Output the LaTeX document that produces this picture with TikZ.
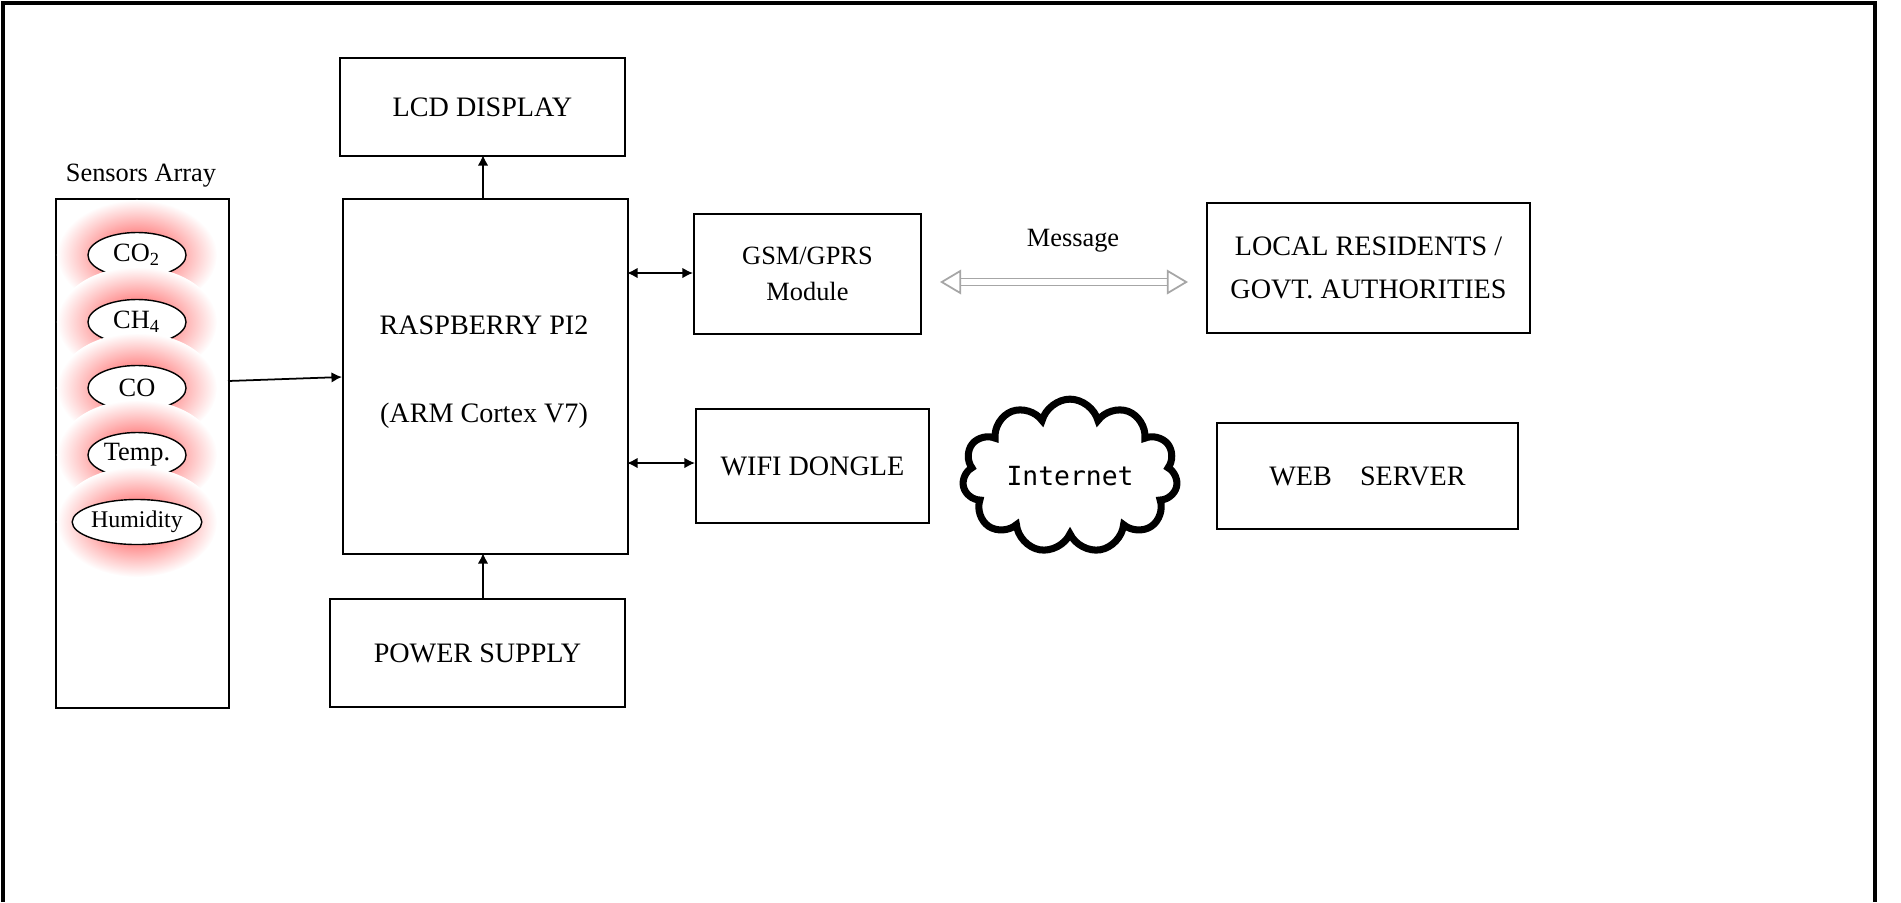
\documentclass[tikz,border=0pt]{standalone}
\usepackage{fontspec}
\setmainfont{Liberation Serif}
\newfontfamily\monof{DejaVu Sans Mono}
\usetikzlibrary{shapes.geometric,shapes.symbols,arrows.meta}
\begin{document}
\begin{tikzpicture}[x=0.01cm,y=-0.01cm,
  box/.style={draw,line width=0.5pt,align=center,inner sep=0pt,font=\fontsize{8}{11}\selectfont},
  sens/.style={draw,ellipse,fill=white,minimum width=0.98cm,minimum height=0.45cm,inner sep=0pt,font=\fontsize{7.5}{9}\selectfont},
  arr/.style={-{Latex[length=3pt,width=3pt]},line width=0.5pt},
  darr/.style={{Latex[length=3pt,width=3pt]}-{Latex[length=3pt,width=3pt]},line width=0.5pt}]
\useasboundingbox (0,0) rectangle (1901,902);
\draw[line width=1pt] (3,902) -- (3,3) -- (1875,3) -- (1875,902);
% boxes
\node[box,minimum width=1.73cm,minimum height=5.09cm,anchor=north west] (sa) at (55,198) {};
\node[font=\fontsize{7.5}{9}\selectfont] (sal) at (141,176) {Sensors Array};
\foreach \n/\t/\y in {s1/CO\textsubscript{2}/255,s2/CH\textsubscript{4}/322,s3/CO/388,s4/Temp./455,s5/{\fontsize{6.8}{8}\selectfont Humidity}/522}{
  \shade[inner color=red!75!white,outer color=white] (137,\y) ellipse (0.8cm and 0.55cm);
  \node[sens] (\n) at (137,\y) {\t};
}
\node[box,minimum width=2.85cm,minimum height=0.98cm,anchor=north west] (lcd) at (339,57) {};
\node[font=\fontsize{8}{11}\selectfont] at (lcd.center) {LCD DISPLAY};
\node[box,minimum width=2.85cm,minimum height=3.55cm,anchor=north west] (rpi) at (342,198) {};
\node[font=\fontsize{8}{11}\selectfont,align=center] at (484,372) {RASPBERRY PI2\\[14pt](ARM Cortex V7)};
\node[box,minimum width=2.95cm,minimum height=1.08cm,anchor=north west] (pow) at (329,598) {};
\node[font=\fontsize{8}{11}\selectfont] at (pow.center) {POWER SUPPLY};
\node[box,minimum width=2.27cm,minimum height=1.2cm,anchor=north west] (gsm) at (693,213) {};
\node[font=\fontsize{7.5}{10}\selectfont,align=center] at (gsm.center) {GSM/GPRS\\Module};
\node[box,minimum width=2.33cm,minimum height=1.14cm,anchor=north west] (wifi) at (695,408) {};
\node[font=\fontsize{8}{11}\selectfont] at (wifi.center) {WIFI DONGLE};
\node[box,minimum width=3.23cm,minimum height=1.3cm,anchor=north west] (loc) at (1206,202) {};
\node[font=\fontsize{8}{12}\selectfont,align=center] at (loc.center) {LOCAL RESIDENTS /\\GOVT. AUTHORITIES};
\node[box,minimum width=3.01cm,minimum height=1.06cm,anchor=north west] (web) at (1216,422) {};
\node[font=\fontsize{8}{11}\selectfont] at (web.center) {WEB\quad SERVER};
\node[cloud,draw,line width=2pt,cloud puffs=11,aspect=1.5,minimum width=2.15cm,minimum height=1.45cm,inner sep=0pt,font=\monof\fontsize{7.5}{10}\selectfont] (net) at (1070,476) {Internet};
% connectors
\coordinate (a1) at (228,381);
\coordinate (a2) at (342,377);
\draw[arr] (a1) -- (a2);
\coordinate (l1) at (483,198);
\coordinate (l2) at (483,155);
\draw[arr] (l1) -- (l2);
\coordinate (p1) at (483,598);
\coordinate (p2) at (483,553);
\draw[arr] (p1) -- (p2);
\coordinate (g1) at (627,273);
\coordinate (g2) at (693,273);
\draw[darr] (g1) -- (g2);
\coordinate (w1) at (627,463);
\coordinate (w2) at (695,463);
\draw[darr] (w1) -- (w2);
\coordinate (m1) at (940,282);
\coordinate (m2) at (1188,282);
\draw[{Triangle[open,length=6pt,width=7pt]}-{Triangle[open,length=6pt,width=7pt]},double=white,double distance=1.5pt,draw=gray!70,line width=0.5pt] (m1) -- (m2);
\node[font=\fontsize{7.5}{9}\selectfont] (msg) at (1073,241) {Message};
\end{tikzpicture}
\end{document}
